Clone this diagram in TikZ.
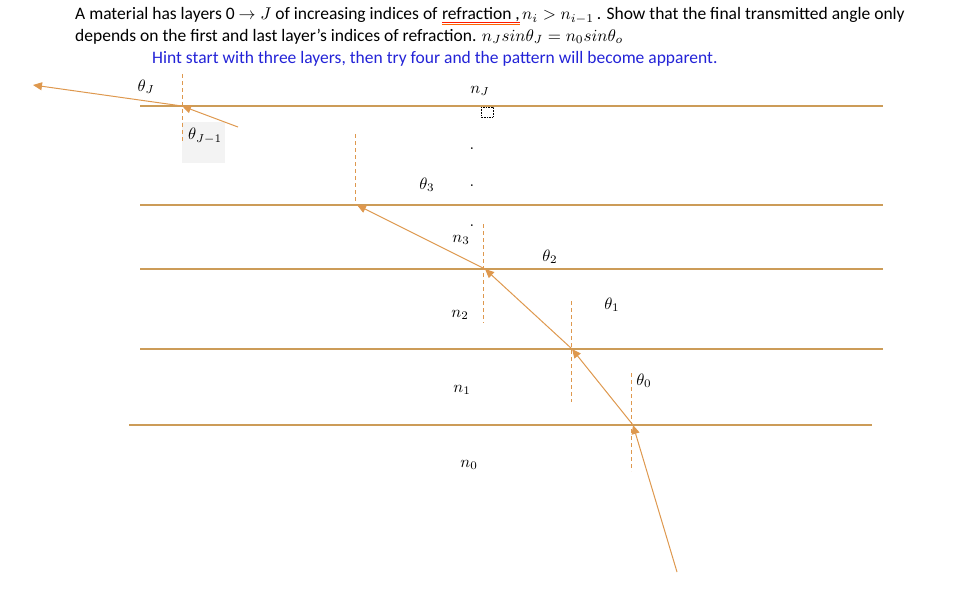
\RequirePackage{fix-cm}
\documentclass[tikz,border=0pt]{standalone}
\usepackage{fontspec}
\setmainfont{Carlito}
\usetikzlibrary{arrows.meta}
\definecolor{raycol}{RGB}{222,152,78}
\definecolor{laycol}{RGB}{204,156,88}
\definecolor{hintcol}{RGB}{35,35,215}
\definecolor{boxgray}{RGB}{243,243,243}
\newcommand{\hdrmath}[1]{{\fontsize{10}{12}\selectfont\scalebox{1.7}{$#1$}}}
\newcommand{\lblmath}[1]{{\fontsize{10}{12}\selectfont\scalebox{1.65}{$#1$}}}
\begin{document}
\begin{tikzpicture}[x=1pt,y=-1pt,
  layer/.style={draw=laycol,line width=1.1pt},
  ray/.style={draw=raycol,line width=1pt,-{Triangle[length=9pt,width=8pt]}},
  normal/.style={draw=raycol,line width=1pt,dash pattern=on 4pt off 3pt},
  hdr/.style={anchor=base west,inner sep=0pt,font=\fontsize{17.5}{21}\selectfont},
  lbl/.style={inner sep=0pt}]
\useasboundingbox (0,0) rectangle (966,595);
% header
\node[hdr] (h1a) at (75,19.5) {A material has layers 0 \hdrmath{\rightarrow J} of increasing indices of};
\node[hdr] (h1b) at ([xshift=4pt]h1a.base east) {refraction ,};
\node[hdr] (h1c) at ([xshift=2pt]h1b.base east) {\hdrmath{n_i>n_{i-1}}\,. Show that the final transmitted angle only};
\node[hdr] (h2) at (75,41) {depends on the first and last layer’s indices of refraction. \hdrmath{n_J sin\theta_J = n_0 sin\theta_o}};
\node[hdr,text=hintcol] (h3) at (152,63) {Hint start with three layers, then try four and the pattern will become apparent.};
\draw[red!80!orange,line width=0.7pt] ([yshift=-2.5pt]h1b.base west) -- ([yshift=-2.5pt]h1b.base east);
\draw[orange!80!red,line width=0.5pt] ([yshift=-4.3pt]h1b.base west) -- ([yshift=-4.3pt]h1b.base east);
% gray box
\fill[boxgray] (182,122) rectangle (225,163);
% layers
\draw[layer] (140,106) coordinate (L1a) -- (883,106) coordinate (L1b);
\draw[layer] (140,205) coordinate (L2a) -- (883,205) coordinate (L2b);
\draw[layer] (140,269) coordinate (L3a) -- (883,269) coordinate (L3b);
\draw[layer] (140,349) coordinate (L4a) -- (883,349) coordinate (L4b);
\draw[layer] (129,425) coordinate (L5a) -- (872,425) coordinate (L5b);
% interface points
\coordinate (P0) at (677,572);
\coordinate (P1) at (633,425);
\coordinate (P2) at (572,349);
\coordinate (P3) at (485,269);
\coordinate (P4) at (357,205);
\coordinate (Q1) at (238,127);
\coordinate (Q2) at (182,106);
\coordinate (Q3) at (33,85);
% normals
\draw[normal] (182,74) coordinate (N1a) -- (182,141) coordinate (N1b);
\draw[normal] (355,134) coordinate (N2a) -- (355,205) coordinate (N2b);
\draw[normal] (483,224) coordinate (N3a) -- (483,323) coordinate (N3b);
\draw[normal] (571,301) coordinate (N4a) -- (571,402) coordinate (N4b);
\draw[normal] (631,373) coordinate (N5a) -- (631,471) coordinate (N5b);
% rays
\draw[ray] (P0) -- (P1);
\draw[ray] (P1) -- (P2);
\draw[ray] (P2) -- (P3);
\draw[ray] (P3) -- (P4);
\draw[ray] (Q1) -- (Q2);
\draw[ray] (Q2) -- (Q3);
% labels
\node[lbl] (tJ) at (146,87) {\lblmath{\theta_J}};
\node[lbl] (tJm) at (205,136) {\lblmath{\theta_{J-1}}};
\node[lbl] (nJ) at (480,91) {\lblmath{n_J}};
\draw[densely dotted,line width=0.6pt] (481,107) rectangle (493,117);
\node[lbl] (d1) at (472,149) {\lblmath{.}};
\node[lbl] (d2) at (472,186) {\lblmath{.}};
\node[lbl] (t3) at (427,185) {\lblmath{\theta_3}};
\node[lbl] (n3) at (461,240) {\lblmath{n_3}};
\node[lbl] (d3) at (472,226) {\lblmath{.}};
\node[lbl] (t2) at (550,257) {\lblmath{\theta_2}};
\node[lbl] (n2) at (460,315) {\lblmath{n_2}};
\node[lbl] (t1) at (612,305) {\lblmath{\theta_1}};
\node[lbl] (t0) at (644,381) {\lblmath{\theta_0}};
\node[lbl] (n1) at (462,390) {\lblmath{n_1}};
\node[lbl] (n0) at (469,465) {\lblmath{n_0}};
\end{tikzpicture}
\end{document}
